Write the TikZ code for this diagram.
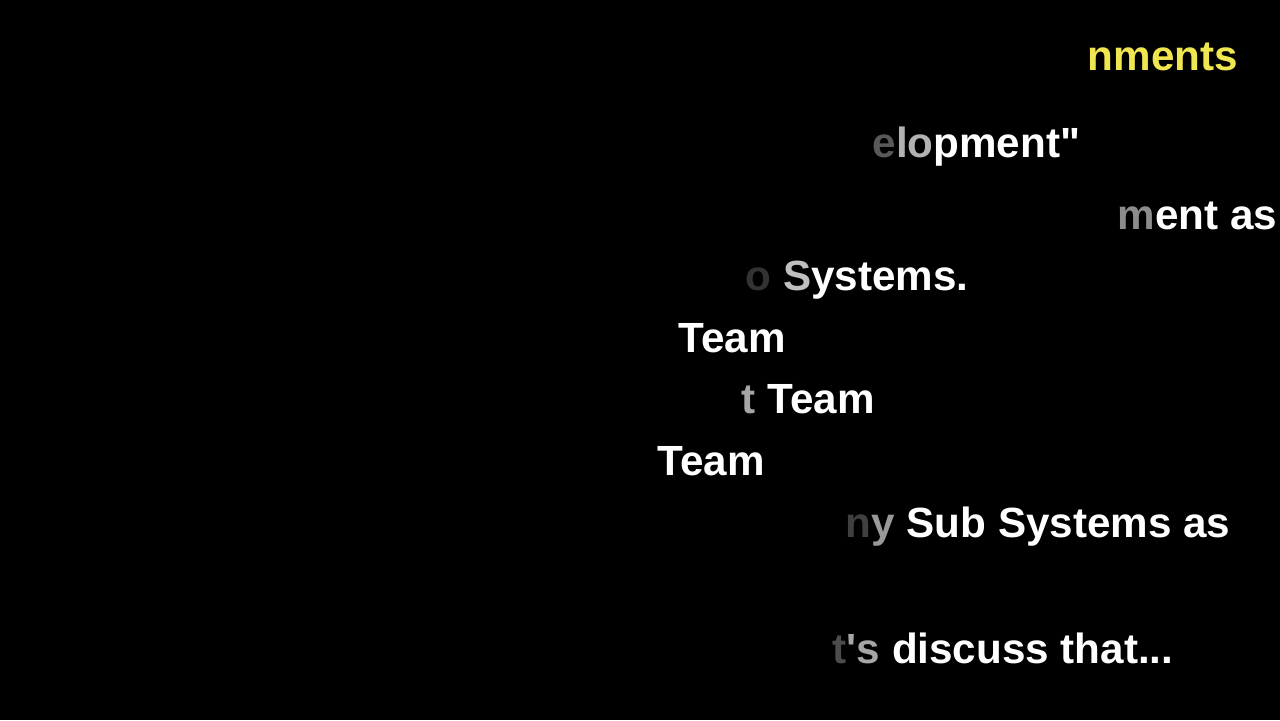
\documentclass[tikz,border=0pt]{standalone}
\usepackage{fontspec}
\setmainfont{Liberation Sans}
\newfontfamily\plainq{Liberation Sans}
\begin{document}
\begin{tikzpicture}[x=0.01cm,y=-0.01cm,
  txt/.style={anchor=base west,inner sep=0pt,font=\fontsize{12pt}{14pt}\selectfont\bfseries,text=white}]
\fill[black] (0,0) rectangle (1280,720);
\useasboundingbox (0,0) rectangle (1280,720);
\definecolor{yel}{RGB}{240,230,80}
\node[txt,text=yel] (t1) at (1087,70) {nments};
\node[txt] (t2) at (872,157) {\textcolor{white!35!black}{e}\textcolor{white!70!black}{lo}pment{\plainq\bfseries"}};
\node[txt] (t3) at (1117,229) {\textcolor{white!55!black}{m}ent as};
\node[txt] (t4) at (745,290) {\textcolor{white!20!black}{o} \textcolor{white!75!black}{S}ystems.};
\node[txt] (t5) at (678,352) {Team};
\node[txt] (t6) at (741,413) {\textcolor{white!65!black}{t} Team};
\node[txt] (t7) at (657,475) {Team};
\node[txt] (t8) at (845,537) {\textcolor{white!25!black}{n}\textcolor{white!60!black}{y} Sub Systems as};
\node[txt] (t9) at (832,663) {\textcolor{white!30!black}{t}\textcolor{white!65!black}{{\plainq\bfseries'}s} discuss that...};
\end{tikzpicture}
\end{document}
